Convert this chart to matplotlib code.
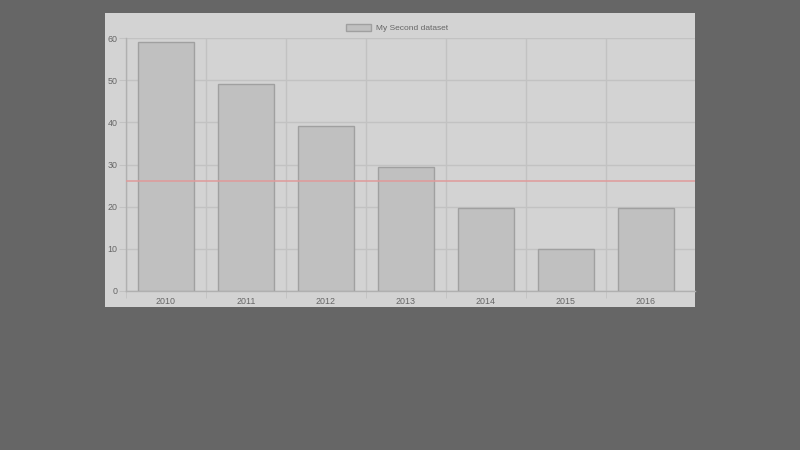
import matplotlib
matplotlib.use("Agg")
import matplotlib.pyplot as plt
from matplotlib.patches import Rectangle
import numpy as np

plt.rcParams["font.family"] = ["Liberation Sans", "DejaVu Sans"]

years = ["2010", "2011", "2012", "2013", "2014", "2015", "2016"]
values = [59, 49, 39.2, 29.5, 19.6, 10, 19.6]
ref_line = 26
y_ticks = [0, 10, 20, 30, 40, 50, 60]

W, H = 800, 450
fig = plt.figure(figsize=(8, 4.5), dpi=100)
fig.patch.set_facecolor("#666666")

# light panel behind the chart
fig.patches.append(Rectangle((105 / W, 1 - 307 / H), (695 - 105) / W, (307 - 13) / H,
                             transform=fig.transFigure, facecolor="#d3d3d3",
                             edgecolor="none", zorder=-5))

ax = fig.add_axes([126 / W, 1 - 291 / H, (695 - 126) / W, (291 - 38) / H])
ax.set_facecolor("none")

x = np.arange(len(years))
ax.bar(x, values, width=0.71, color="#c0c0c0", edgecolor="#a0a0a0", linewidth=1, zorder=3,
       label="My Second dataset")
ax.axhline(ref_line, color="#e09a9a", linewidth=1.1, zorder=4)

# categories are 80px wide, the plot area runs a bit past the last one
ax.set_xlim(-0.5, len(years) - 0.5 + 9 / 80)
ax.set_ylim(0, 60)
ax.set_yticks(y_ticks)
ax.set_xticks(x)
ax.set_xticklabels(years)
ax.set_xticks(np.arange(len(years)) - 0.5, minor=True)

ax.grid(axis="y", color="#c2c2c2", linewidth=1, zorder=1)
ax.grid(axis="x", which="minor", color="#c2c2c2", linewidth=1, zorder=1)
ax.tick_params(axis="x", which="major", length=0, pad=4, labelsize=6.4, labelcolor="#666666")
ax.tick_params(axis="x", which="minor", length=5, color="#c2c2c2")
ax.tick_params(axis="y", length=5, color="#c2c2c2", pad=1, labelsize=6.4, labelcolor="#666666")

for s in ["top", "right"]:
    ax.spines[s].set_visible(False)
for s in ["left", "bottom"]:
    ax.spines[s].set_color("#b0b0b0")
    ax.spines[s].set_linewidth(1)

leg = fig.legend(loc="center", bbox_to_anchor=(397 / W, 1 - 28 / H), frameon=False,
                 fontsize=6, labelcolor="#666666", handlelength=3.0, handleheight=1.0,
                 handletextpad=0.5, borderpad=0)

fig.savefig("out.png", dpi=100, facecolor=fig.get_facecolor())
